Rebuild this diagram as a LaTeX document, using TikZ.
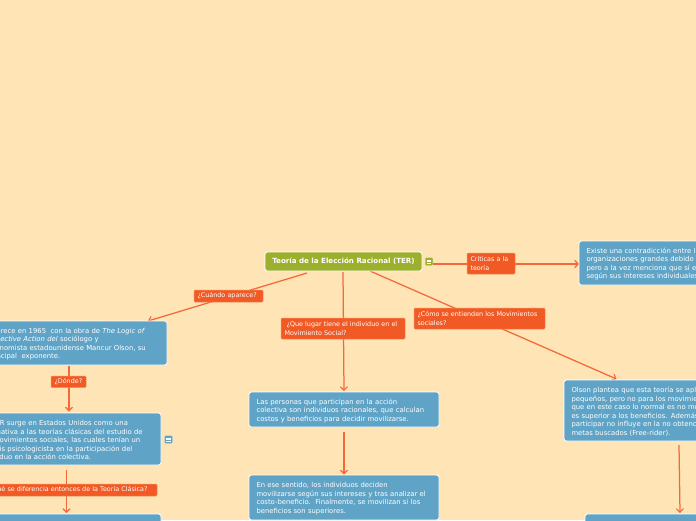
\documentclass[tikz,border=0pt]{standalone}
\usepackage{fontspec}
\setmainfont{DejaVu Sans}
\usetikzlibrary{calc,backgrounds,arrows.meta}
\definecolor{bgc}{HTML}{FFE4B5}
\definecolor{bluec}{HTML}{5FA4C6}
\definecolor{orangec}{HTML}{F15A24}
\definecolor{linec}{HTML}{F4683A}
\definecolor{greenc}{HTML}{9DB02D}
\tikzset{
  base/.style={anchor=north west,rounded corners=2.5pt,draw=white,line width=.8pt,text=white,align=left,inner ysep=0pt,outer sep=0pt},
  bluebox/.style 2 args={base,fill=bluec,text width=#1pt-15pt,minimum width=#1pt,minimum height=#2pt,inner xsep=7.5pt,font=\fontsize{6.85}{8.5}\selectfont,execute at begin node={\rule{0pt}{7.5pt}}},
  tag/.style 2 args={base,fill=orangec,draw=orangec!60!bgc,line width=.5pt,rounded corners=1pt,text width=#1pt-7pt,minimum width=#1pt,minimum height=#2pt,inner xsep=3.5pt,font=\fontsize{6.4}{9}\selectfont},
  mainbox/.style={base,fill=greenc,minimum width=157pt,minimum height=19pt,align=center,inner xsep=0pt,font=\fontsize{7.1}{8}\selectfont\bfseries},
  conn/.style={draw=linec,line width=1.25pt},
  arr/.style={conn,-{Straight Barb[length=3.5pt,width=7pt,line width=1.1pt]}},
  icon/.style={draw=#1!65!white,fill=#1,minimum size=7.5pt,inner sep=0pt,rounded corners=.8pt,line width=.4pt,
    path picture={\foreach \d in {-1.7,0,1.7}{\draw[white,line width=.6pt] ($(path picture bounding box.center)+(-2.3pt,\d pt)$) -- ++(4.6pt,0);}}}
}
\begin{document}
\begin{tikzpicture}[x=1pt,y=-1pt]
\useasboundingbox (0,0) rectangle (696,520);
\begin{pgfonlayer}{background}
\fill[bgc] (0,0) rectangle (696,520);
\end{pgfonlayer}
\clip (0,0) rectangle (696,520);
% main
\node[mainbox] (main) at (265,252) {Teoría de la Elección Racional (TER)};
\node[icon=greenc] (mainicon) at (429,261.5) {};
% right branch
\node[tag={48}{21}] (crit) at (467,253) {Críticas a la\\teoría};
\node[bluebox={220}{44}] (contra) at (579,241) {Existe una contradicción entre la\\organizaciones grandes debido a\\pero a la vez menciona que sí es\\según sus intereses individuales};
% left branch
\node[tag={69}{12}] (cuando) at (194,290) {¿Cuándo aparece?};
\node[bluebox={187}{44}] (aparece) at (-20,321) {Aparece en 1965\ \ con la obra de \textit{The Logic of}\\\textit{Collective Action del} sociólogo y\\economista estadounidense Mancur Olson, su\\principal\ \ exponente.};
\node[tag={35}{11.5}] (donde) at (51,376) {¿Dónde?};
\node[bluebox={187.5}{52}] (surge) at (-26.5,413) {La TER surge en Estados Unidos como una\\alternativa a las teorías clásicas del estudio de\\los movimientos sociales, las cuales tenían un\\énfasis psicologicista en la participación del\\individuo en la acción colectiva.};
\node[icon=bluec] (surgeicon) at (168.5,439.5) {};
\node[tag={171.5}{12}] (difer) at (-14.5,484) {¿Qué se diferencia entonces de la Teoría Clásica?};
\node[bluebox={187.5}{40}] (clasica) at (-26.5,514) {};
% centre branch
\node[tag={124}{21}] (lugar) at (281,318) {\ ¿Que lugar tiene el individuo en el\\Movimiento Social?};
\node[bluebox={190}{35}] (personas) at (249,392) {Las personas que participan en la acción\\colectiva son individuos racionales, que calculan\\costos y beneficios para decidir movilizarse.};
\node[bluebox={190}{45}] (sentido) at (249,475) {En ese sentido, los individuos deciden\\movilizarse según sus intereses y tras analizar el\\costo-beneficio.\ \ Finalmente, se movilizan si los\\beneficios son superiores.};
% olson branch
\node[tag={131}{21}] (como) at (414,308) {¿Cómo se entienden los Movimientos\\sociales?};
\node[bluebox={220}{61}] (olson) at (564,380) {Olson plantea que esta teoría se aplica\\pequeños, pero no para los movimientos\\que en este caso lo normal es no movilizarse\\es superior a los beneficios. Además\\participar no influye en la no obtención\\metas buscados (Free-rider).};
\node[bluebox={200}{40}] (final) at (585,514) {};
% connectors
\begin{pgfonlayer}{background}
\draw[arr] ($(mainicon.east)+(0,2.5)$) -- ($(contra.west)+(0,1)$);
\draw[arr] ($(main.south)+(-36.5,2)$) -- ($(aparece.north east)+(-19,0)$);
\draw[arr] ($(aparece.south)+(-4.5,1)$) -- ($(surge.north)+(1.75,-1.5)$);
\draw[arr] ($(surge.south)+(-0.75,4.5)$) -- ($(clasica.north)+(-0.75,-1)$);
\draw[arr] ($(main.south)+(-0.5,1)$) -- ($(personas.north)+(0,-1)$);
\draw[arr] ($(personas.south)+(0,5)$) -- ($(sentido.north)+(0,-.5)$);
\draw[arr] ($(main.south)+(26.5,0)$) -- ($(olson.north west)+(52.5,-1)$);
\draw[arr] ($(olson.south)+(5,4)$) -- ($(final.north)+(-5,-1)$);
\end{pgfonlayer}
\end{tikzpicture}
\end{document}
